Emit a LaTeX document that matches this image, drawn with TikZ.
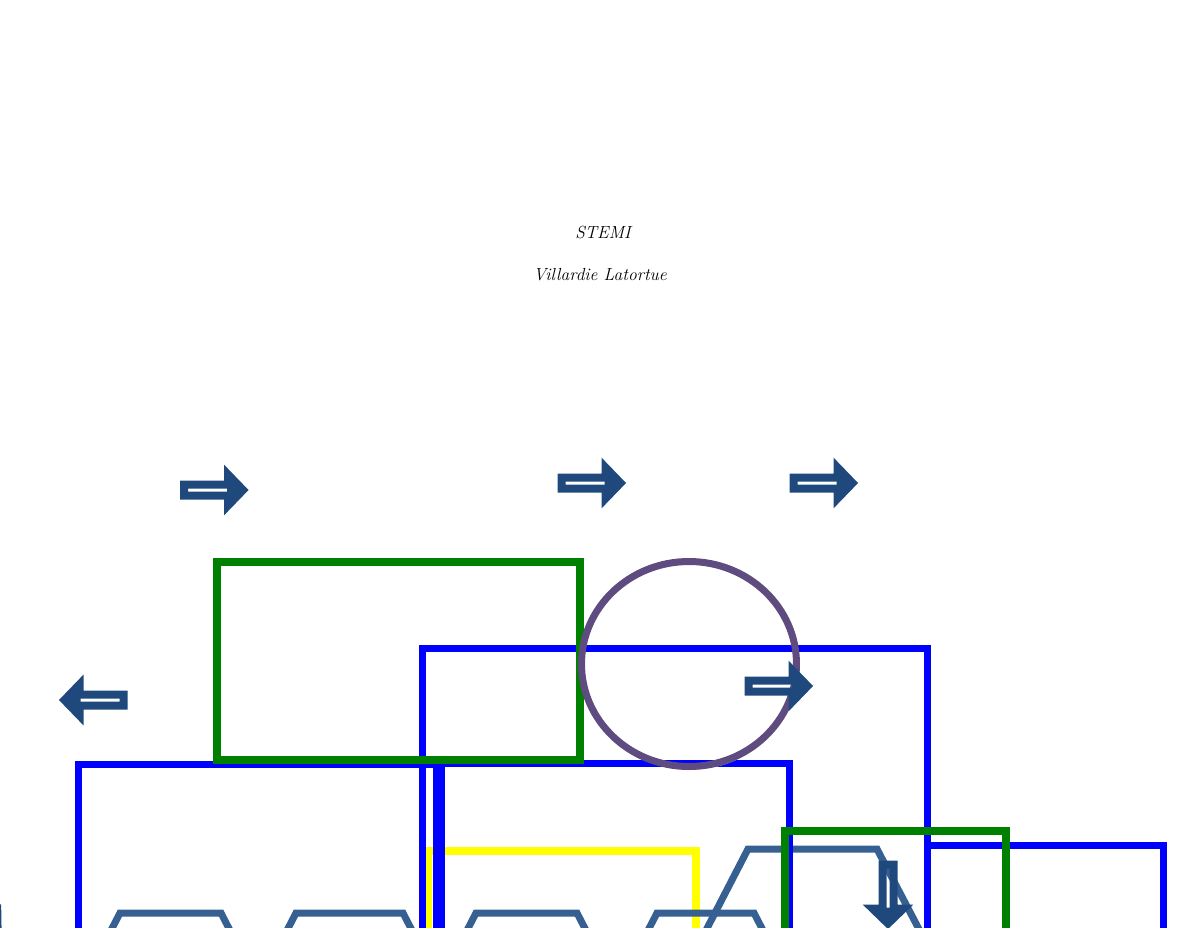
\documentclass[tikz,border=0pt]{standalone}
\usetikzlibrary{calc}
\definecolor{pureblue}{RGB}{0,0,255}
\definecolor{darkgreen}{RGB}{0,128,0}
\definecolor{brightyellow}{RGB}{255,255,0}
\definecolor{purplering}{RGB}{94,75,128}
\definecolor{steel}{RGB}{55,96,146}
\definecolor{arrowblue}{RGB}{31,73,125}
\tikzset{
  x=1pt, y=-1pt,
  shade/.style={preaction={draw=black!18, transform canvas={xshift=1.5pt, yshift=-3pt}}},
  bluebox/.style={draw=pureblue, line width=7pt, shade},
  greenbox/.style={draw=darkgreen, line width=8pt, shade},
  yellowbox/.style={draw=brightyellow, line width=8pt, shade},
  ring/.style={draw=purplering, line width=7pt, shade},
  trap/.style={draw=steel, line width=7pt, line join=miter, shade},
  titletext/.style={font=\fontsize{17.5}{21}\selectfont\itshape, inner sep=0pt},
  barrow/.pic={
    \draw[draw=arrowblue, line width=8pt, line join=miter, shade]
      (0,-5.5) -- (44,-5.5) -- (44,-15.5) -- (59,0) -- (44,15.5) -- (44,5.5) -- (0,5.5) -- cycle;
    \fill[arrowblue] (43,-15.5) -- (59,0) -- (43,15.5) -- cycle;
  }
}
\begin{document}
\begin{tikzpicture}
\useasboundingbox (0,0) rectangle (1200,927);
\clip (0,0) rectangle (1200,927);

% title
\node[titletext] (title) at (603,233) {STEMI};
\node[titletext] (author) at (600,275) {Villardie Latortue};

% yellow box
\draw[yellowbox] (428,1000) -- (428,851) -- (696,851) -- (696,1000);

% trapezoids
\draw[trap] (75,1000) -- (120,913) -- (221,913) -- (266,1000);
\draw[trap] (251,1000) -- (296,913) -- (403,913) -- (448,1000);
\draw[trap] (431,1000) -- (476,913) -- (577,913) -- (622,1000);
\draw[trap] (612,1000) -- (657,913) -- (754,913) -- (799,1000);
\draw[trap] (670,1000) -- (748,849) -- (877,849) -- (956,1000);

% blue boxes
\draw[bluebox] (422.5,1000) -- (422.5,648.5) -- (927,648.5) -- (927,1000);
\draw[bluebox] (78,1000) -- (78,764) -- (436,764) -- (436,1000);
\draw[bluebox] (441,1000) -- (441,763) -- (789,763) -- (789,1000);
\draw[bluebox] (927,1000) -- (927,845) -- (1163,845) -- (1163,1000);

% green boxes
\draw[greenbox] (217,561.5) rectangle (580,760);
\draw[greenbox] (785,1000) -- (785,831) -- (1006,831) -- (1006,1000);

% circle
\draw[ring] (689,664) ellipse [x radius=107.5, y radius=102.5];

% arrows
\pic at (184,490) {barrow};
\pic at (561.5,483) {barrow};
\pic at (793.5,483) {barrow};
\pic at (748.5,686) {barrow};
\pic[rotate=180] at (123.5,700) {barrow};
\pic[rotate=-90] at (888,864.5) {barrow};
\pic[rotate=45] at (-44.5,950) {barrow};
\end{tikzpicture}
\end{document}
